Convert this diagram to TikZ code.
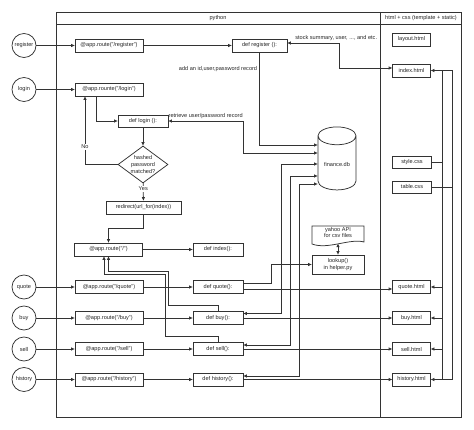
\documentclass[tikz,border=0pt]{standalone}
\usepackage{fontspec}
\setmainfont{Liberation Sans}
\usetikzlibrary{arrows.meta,shapes.geometric}
\begin{document}
\begin{tikzpicture}[x=1pt,y=-1pt,
  every node/.style={font=\fontsize{5.6}{6.6}\selectfont, text=black!85, inner sep=1pt},
  ln/.style={draw=black!80, line width=0.75pt},
  box/.style={ln, rectangle, fill=white, minimum height=13pt},
  rbox/.style={box, minimum width=68pt},
  dbox/.style={box, minimum width=50pt},
  hbox/.style={box, minimum width=38pt},
  ent/.style={ln, circle, minimum size=24pt, fill=white},
  arr/.style={ln, -{Triangle[length=3.5pt,width=3pt]}},
  arrb/.style={ln, {Triangle[length=3.5pt,width=3pt]}-{Triangle[length=3.5pt,width=3pt]}},
  lbl/.style={fill=white, inner sep=0.8pt}
]
\useasboundingbox (0,0) rectangle (474,430);
% frame
\draw[ln] (56,12) rectangle (461,417);
\draw[ln] (56,24) -- (461,24);
\draw[ln] (380,12) -- (380,417);
\node (hpy) at (218,18) {python};
\node (hhtml) at (421,18) {html + css (template + static)};

% entities
\node[ent] (cReg) at (24,45.5) {register};
\node[ent] (cLogin) at (24,89.5) {login};
\node[ent] (cQuote) at (24,287) {quote};
\node[ent] (cBuy) at (24,318) {buy};
\node[ent] (cSell) at (24,349) {sell};
\node[ent] (cHist) at (24,379.5) {history};

% routes
\node[rbox] (rReg) at (109,45.5) {@app.route("/register")};
\node[rbox] (rLogin) at (109,89.5) {@app.rounte("/login")};
\node[rbox] (rIndex) at (108.5,249.5) {@app.route("/")};
\node[rbox] (rQuote) at (109,287) {@app.route("/quote")};
\node[rbox] (rBuy) at (109,318) {@app.route("/buy")};
\node[rbox] (rSell) at (109,349) {@app.route("/sell")};
\node[rbox] (rHist) at (109,379.5) {@app.route("/history")};

% defs
\node[box, minimum width=55pt] (dReg) at (259.5,45.5) {def register ():};
\node[dbox, minimum height=12pt] (dLogin) at (143,121) {def login ():};
\node[ln, diamond, fill=white, aspect=1.32, inner sep=0pt, minimum width=50pt, minimum height=37pt, align=center, font=\fontsize{5.6}{7}\selectfont] (dia) at (143,164.5) {hashed\\password\\matched?};
\node[box, minimum width=75pt] (red) at (143.5,207.5) {redirect(url\_for(index))};
\node[dbox] (dIndex) at (218,249.5) {def index():};
\node[dbox] (dQuote) at (218,287) {def quote():};
\node[dbox] (dBuy) at (218,318) {def buy():};
\node[dbox] (dSell) at (218,349) {def sell():};
\node[dbox] (dHist) at (218,379.5) {def history():};

% database, api, helper
\node[ln, cylinder, shape border rotate=90, aspect=0.64, fill=white, minimum width=38pt, minimum height=63pt] (db) at (337,164.5) {finance.db};
\draw[ln] (312,226) -- (364,226) -- (364,242) .. controls (350,238) and (328,250) .. (312,244) -- cycle;
\node[align=center, minimum width=52pt, minimum height=17pt, inner sep=0pt, font=\fontsize{5.6}{6.4}\selectfont] (api) at (338,232.5) {yahoo API\\for csv files};
\node[box, minimum width=52pt, minimum height=19pt, align=center] (lookup) at (338,264.5) {lookup()\\in helper.py};

% html
\node[hbox] (hLayout) at (411.5,39.5) {layout.html};
\node[hbox] (hIndex) at (411.5,70.5) {index.html};
\node[hbox, minimum width=39pt, minimum height=12pt] (hStyle) at (412,162) {style.css};
\node[hbox, minimum width=39pt, minimum height=12pt] (hTable) at (412,187) {table.css};
\node[hbox] (hQuote) at (411.5,287) {quote.html};
\node[hbox] (hBuy) at (411.5,318) {buy.html};
\node[hbox] (hSell) at (411.5,349) {sell.html};
\node[hbox] (hHist) at (411.5,379.5) {history.html};

% entity -> route
\draw[arr] (cReg) -- (rReg);
\draw[arr] (cLogin) -- (rLogin);
\draw[arr] (cQuote) -- (rQuote);
\draw[arr] (cBuy) -- (rBuy);
\draw[arr] (cSell) -- (rSell);
\draw[arr] (cHist) -- (rHist);

% route -> def
\draw[arr] (rReg) -- (dReg);
\draw[arr] ([xshift=-13pt]rLogin.south) |- (dLogin.west);
\draw[arr] (dLogin) -- (dia);
\draw[arr] (dia.west) -| node[pos=0.63, lbl] {No} ([xshift=-24pt]rLogin.south);
\draw[arr] (dia) -- node[pos=0.33, lbl] {Yes} (red);
\draw[arr] (red.south) -- ++(0,14) -| (rIndex.north);
\draw[arr] (rIndex) -- (dIndex);
\draw[arr] (rQuote) -- (dQuote);
\draw[arr] (rBuy) -- (dBuy);
\draw[arr] (rSell) -- (dSell);
\draw[arr] (rHist) -- (dHist);
\draw[arr] (dBuy.north) -- ++(0,-6) -| (168,271) -| (rIndex.south);
\draw[arr] (dSell.north) -- ++(0,-6) -| (165,274) -| ([xshift=-4.5pt]rIndex.south);

% database links
\draw[arr] (dReg.south) |- node[pos=0.09, anchor=east, inner sep=2pt] {add an id,user,password record} (db.west |- 0,145);
\draw[arrb] (dLogin.east) -| node[pos=0.25, anchor=south, inner sep=1.5pt] {retrieve user/password record} (243,153) -- (db.west |- 0,153);
\draw[arrb] ([yshift=4.5pt]dBuy.east) -| (281,164) -- (db.west |- 0,164);
\draw[arrb] ([yshift=4pt]dSell.east) -| (290,176) -- (db.west |- 0,176);
\draw[arrb] ([yshift=3.5pt]dHist.east) -| (299,184) -- (db.west |- 0,184);
\draw[arr] ([yshift=3.5pt]dQuote.east) -| (lookup.west -| 271,0) -- (lookup.west);
\draw[arrb] ([yshift=-2.5pt]api.south) -- (lookup.north);

% register <-> index.html
\draw[arrb] ([yshift=2.5pt]dReg.east) -| node[pos=0.25, anchor=south, xshift=23pt, inner sep=1.5pt] {stock summary, user, ..., and etc.} (339,68) -- (hIndex.west |- 0,68);

% def -> html
\draw[arr] ([yshift=-2pt]dQuote.east) -- ([yshift=-2pt]hQuote.west);
\draw[arr] (dBuy.east) -- (hBuy.west);
\draw[arr] (dSell.east) -- (hSell.west);
\draw[arr] (dHist.east) -- (hHist.west);

% css bus
\coordinate (bA1) at (442,70.5);
\coordinate (bA2) at (442,379.5);
\coordinate (bB1) at (452,70.5);
\coordinate (bB2) at (452,379.5);
\draw[ln] (bA1) -- (bA2);
\draw[ln] (bB1) -- (bB2);
\draw[ln] (hStyle.east) -- (hStyle.east -| bA1);
\draw[ln] (hTable.east) -- (hTable.east -| bB1);
\draw[arr] (bB1) -- (hIndex.east);
\draw[arr] (hQuote.east -| bA1) -- (hQuote.east);
\draw[arr] (hBuy.east -| bA1) -- (hBuy.east);
\draw[arr] (hSell.east -| bA1) -- (hSell.east);
\draw[arr] (bB2) -- (hHist.east);
\end{tikzpicture}
\end{document}
